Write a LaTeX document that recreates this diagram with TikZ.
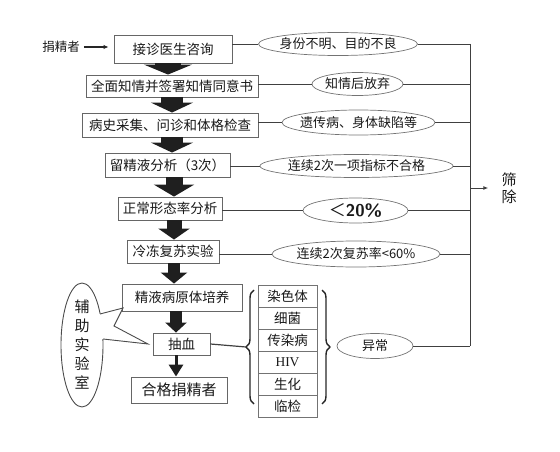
\documentclass[tikz,border=0pt]{standalone}
\usepackage{fontspec}
\setmainfont{Liberation Serif}
\newfontfamily\cjk{Noto Sans CJK SC}
\usetikzlibrary{arrows.meta,shapes.geometric,decorations.pathreplacing,calc}
\begin{document}
\begin{tikzpicture}[x=1pt,y=-1pt,
  box/.style={draw=black!60, line width=0.9pt, inner sep=0pt, font=\cjk\fontsize{13.5}{16}\selectfont, text=black!90},
  oval/.style={ellipse, draw=black!55, line width=0.7pt, inner xsep=-14pt, inner ysep=-5pt, font=\cjk\fontsize{13}{16}\selectfont, text=black!90},
  cell/.style={draw=black!55, line width=0.7pt, inner sep=0pt, minimum width=59pt, minimum height=22pt, font=\cjk\fontsize{13.5}{16}\selectfont, text=black!90},
  conn/.style={draw=black!75, line width=0.9pt},
  bigarr/.style n args={3}{draw=black!88, line width=#1, -{Triangle[width=#2,length=#3]}},
  thinarr/.style={draw=black!85, line width=1.2pt, -{Latex[length=5pt,width=4.5pt]}},
  brc/.style={draw=black!85, line width=1.4pt, decorate},
  lbl/.style={font=\cjk\fontsize{13}{16}\selectfont, text=black!90, inner sep=1pt}
]
\useasboundingbox (0,0) rectangle (560,452);

% main column
\node[box, minimum width=118pt, minimum height=28pt] (b1) at (173,49) {接诊医生咨询};
\node[box, minimum width=172pt, minimum height=22pt] (b2) at (172,86) {全面知情并签署知情同意书};
\node[box, minimum width=176pt, minimum height=24pt] (b3) at (170,125) {病史采集、问诊和体格检查};
\node[box, minimum width=125pt, minimum height=24pt] (b4) at (167.5,165) {留精液分析（3次）};
\node[box, minimum width=104pt, minimum height=23pt] (b5) at (170,208.5) {正常形态率分析};
\node[box, minimum width=92pt, minimum height=23pt] (b6) at (173,251.5) {冷冻复苏实验};
\node[box, minimum width=120pt, minimum height=27pt] (b7) at (182,297.5) {精液病原体培养};
\node[box, minimum width=57pt, minimum height=22pt] (b8) at (181.5,344) {抽血};
\node[box, minimum width=96pt, minimum height=26pt, font=\cjk\fontsize{15}{18}\selectfont] (b9) at (179,390) {合格捐精者};

% donor
\node[lbl, font=\cjk\fontsize{12.5}{15}\selectfont] (donor) at (61,47) {捐精者};
\draw[thinarr, shorten >=5pt, shorten <=3pt] (donor.east) -- (donor.east -| b1.west);

% fat arrows
\coordinate (ax1) at (168,0);
\coordinate (ax2) at (172,0);
\coordinate (ax4) at (174,0);
\coordinate (ax7) at (176,0);
\draw[bigarr={26pt}{48pt}{10pt}] (ax1 |- b1.south) -- (ax1 |- b2.north);
\draw[bigarr={22pt}{42pt}{10pt}] (ax2 |- b2.south) -- (ax2 |- b3.north);
\draw[bigarr={22pt}{42pt}{10pt}] (ax2 |- b3.south) -- (ax2 |- b4.north);
\draw[bigarr={17pt}{40pt}{12pt}] (ax4 |- b4.south) -- (ax4 |- b5.north);
\draw[bigarr={15pt}{31pt}{11pt}] (ax4 |- b5.south) -- (ax4 |- b6.north);
\draw[bigarr={12pt}{26pt}{11pt}] (ax4 |- b6.south) -- (ax4 |- b7.north);
\draw[bigarr={12pt}{21pt}{10pt}] (ax7 |- b7.south) -- (ax7 |- b8.north);
\draw[bigarr={3pt}{14pt}{12pt}] (ax7 |- b8.south) -- (ax7 |- b9.north);

% ellipses
\node[oval, minimum width=159pt, minimum height=23pt] (e1) at (338,44) {身份不明、目的不良};
\node[oval, minimum width=91pt, minimum height=23pt] (e2) at (357.5,84) {知情后放弃};
\node[oval, minimum width=153pt, minimum height=25pt] (e3) at (358.5,122.5) {遗传病、身体缺陷等};
\node[oval, minimum width=193pt, minimum height=23pt] (e4) at (356.5,166) {连续2次一项指标不合格};
\node[oval, minimum width=105pt, minimum height=25pt, font=\fontsize{17}{20}\selectfont\sffamily] (e5) at (355.5,210.5) {{\cjk ＜}\textbf{20\%}};
\node[oval, minimum width=168pt, minimum height=26pt] (e6) at (356,254) {连续2次复苏率<60\%};
\node[oval, minimum width=76pt, minimum height=25pt] (e7) at (375,346) {异常};

% right collector
\coordinate (vtop) at (470,44);
\coordinate (vbot) at (470,346);
\draw[conn] (vtop) -- (vbot);
\foreach \i in {1,...,6}{
  \draw[conn] (e\i.west -| b\i.east) -- (e\i.west);
  \draw[conn] (e\i.east) -- (e\i.east -| vtop);
}
\draw[conn] (e7.east) -- (vbot);

\node[lbl, font=\cjk\fontsize{15}{17}\selectfont, align=center] (out) at (509,188) {筛\\除};
\draw[conn, -{Latex[length=5pt,width=4pt]}, shorten >=12pt] (vtop |- out) -- (out.west);

% table
\node[cell] (t1) at (287.5,296) {染色体};
\node[cell] (t2) at (287.5,318) {细菌};
\node[cell] (t3) at (287.5,340) {传染病};
\node[cell, font=\fontsize{13.5}{16}\selectfont] (t4) at (287.5,362) {HIV};
\node[cell] (t5) at (287.5,384) {生化};
\node[cell] (t6) at (287.5,406) {临检};

% braces
\coordinate (lbt) at (254,290);
\coordinate (lbb) at (254,404);
\coordinate (lbtip) at (246,347);
\draw[brc, decoration={brace, amplitude=8pt}] (lbb) -- (lbt);
\draw[conn, line width=1.2pt] (b8.east) -- (lbtip);
\coordinate (rbt) at (322,290);
\coordinate (rbb) at (322,404);
\draw[brc, decoration={brace, amplitude=8pt}] (rbt) -- (rbb);

% callout
\node[ellipse, draw=black!70, line width=0.9pt, minimum width=42pt, minimum height=124pt, inner sep=0pt] (call) at (82,345) {};
\node[font=\cjk\fontsize{15}{19}\selectfont, align=center, text=black!90] (calltxt) at (82,345) {辅\\助\\实\\验\\室};
\coordinate (p1) at (100,314);
\coordinate (p2) at (123,308);
\coordinate (p3) at (114,326);
\coordinate (p4) at (148,344);
\coordinate (p5) at (103,339);
\fill[white] (96,314) -- (p1) -- (p2) -- (p3) -- (p4) -- (p5) -- (96,339) -- cycle;
\draw[draw=black!70, line width=0.9pt, line join=miter] (p1) -- (p2) -- (p3) -- (p4) -- (p5);
\end{tikzpicture}
\end{document}
